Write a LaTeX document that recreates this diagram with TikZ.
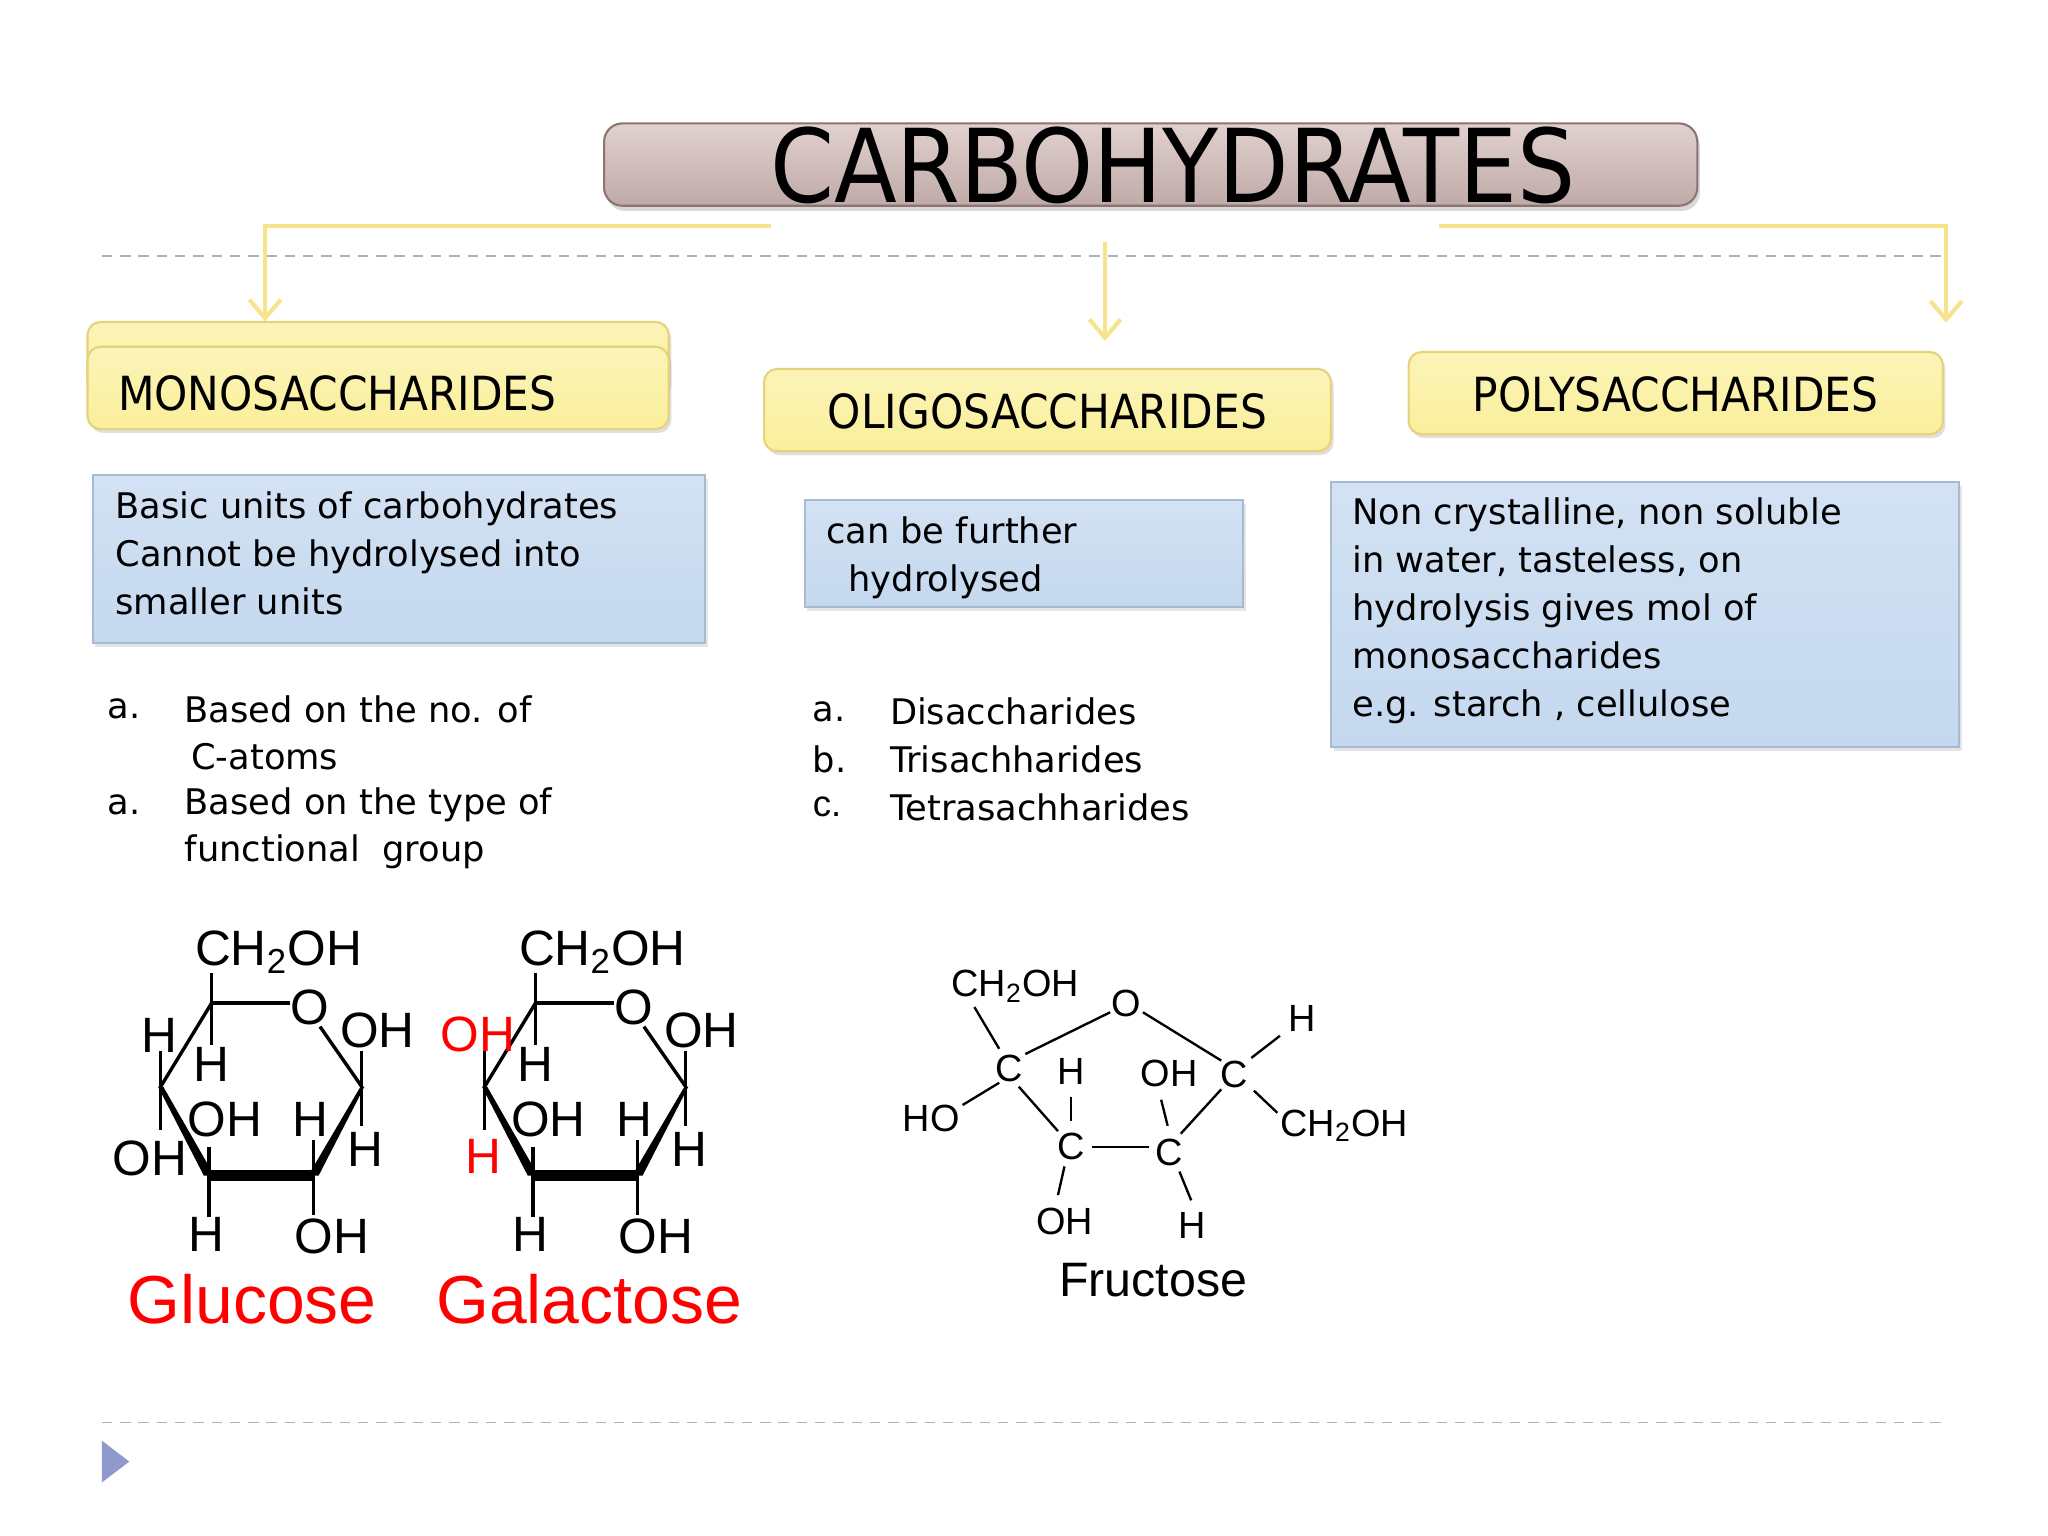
\documentclass[tikz,border=0pt]{standalone}
\usepackage{fontspec}
\setmainfont{DejaVu Sans}
\newfontfamily\condf{DejaVu Sans Condensed}
\newfontfamily\chemf{Liberation Sans}
\usetikzlibrary{arrows.meta,shadows,calc}
\definecolor{ylw}{HTML}{FAEF9A}
\definecolor{ylwb}{HTML}{E6D27A}
\definecolor{yline}{HTML}{F6E38C}
\definecolor{blu}{HTML}{C4D8EF}
\definecolor{blub}{HTML}{A6BAD2}
\definecolor{ttl}{HTML}{D4BDBA}
\definecolor{ttlb}{HTML}{8C7472}
\definecolor{dash}{HTML}{A8B4C4}
\begin{document}
\begin{tikzpicture}[x=0.5pt,y=-0.5pt,
  ybox/.style={draw=ylwb,line width=0.8pt,rounded corners=5pt,top color=ylw!70!white,bottom color=ylw,drop shadow={opacity=0.25,shadow xshift=1pt,shadow yshift=-1.5pt}},
  bbox/.style={draw=blub,line width=0.8pt,top color=blu!75!white,bottom color=blu,drop shadow={opacity=0.2,shadow xshift=1pt,shadow yshift=-1.5pt}},
  conn/.style={draw=yline,line width=1.6pt},
  arr/.style={conn,-{Straight Barb[length=7pt,width=12pt,line width=1.6pt]}},
  dsh/.style={draw=dash,line width=0.6pt,dash pattern=on 4pt off 3pt},
  body/.style={font=\fontsize{13.5}{18.3}\selectfont,inner sep=0pt,anchor=west},
  hd/.style={font=\condf\fontsize{18}{20}\selectfont,inner sep=0pt},
  ch/.style={font=\chemf\fontsize{19}{20}\selectfont,inner sep=0pt},
  fr/.style={font=\chemf\fontsize{14.5}{16}\selectfont,inner sep=0pt},
  bd/.style={line width=1.3pt},
  fb/.style={line width=0.9pt}]
\useasboundingbox (0,0) rectangle (1568,1176);
\fill[white] (0,0) rectangle (1568,1176);
% dashed rules
\draw[dsh] (78,196) -- (1490,196);
\draw[dsh] (78,1089) -- (1490,1089);
\fill[dash!85!blue] (78,1103) -- (99,1119) -- (78,1135) -- cycle;
% title
\node[draw=ttlb,line width=0.8pt,rounded corners=7pt,top color=ttl!70!white,bottom color=ttl!90!black,minimum width=837*0.5pt,minimum height=63*0.5pt,inner sep=0pt,drop shadow={opacity=0.3,shadow xshift=1pt,shadow yshift=-2pt}] (title) at (881,126) {};
\node[font=\condf\fontsize{39}{40}\selectfont,inner sep=0pt] (ttext) at (898,127) {CARBOHYDRATES};
% connectors
\coordinate (ls) at (590,173); \coordinate (lc) at (203,173); \coordinate (le) at (203,246);
\coordinate (ms) at (846,185); \coordinate (me) at (846,261);
\coordinate (rs) at (1102,173); \coordinate (rc) at (1490,173); \coordinate (re) at (1490,247);
\draw[arr] (ls) -- (lc) -- (le);
\draw[arr] (ms) -- (me);
\draw[arr] (rs) -- (rc) -- (re);
% heading boxes
\node[ybox,minimum width=445*0.5pt,minimum height=55*0.5pt,inner sep=0pt] (monoback) at (289.5,274) {};
\node[ybox,minimum width=445*0.5pt,minimum height=63*0.5pt,inner sep=0pt] (mono) at (289.5,297) {};
\node[hd,anchor=west] (monot) at (90,301) {MONOSACCHARIDES};
\node[ybox,minimum width=434*0.5pt,minimum height=63*0.5pt,inner sep=0pt] (oligo) at (802,314) {};
\node[hd] (oligot) at (802,315) {OLIGOSACCHARIDES};
\node[ybox,minimum width=409*0.5pt,minimum height=63*0.5pt,inner sep=0pt] (poly) at (1283,301) {};
\node[hd] (polyt) at (1283,302) {POLYSACCHARIDES};
% blue boxes
\draw[bbox] (71,364) rectangle (540,492);
\node[body,anchor=north west,align=left] (monod) at (88,376) {Basic units of carbohydrates\\Cannot be hydrolysed into\\smaller units};
\draw[bbox] (616,383) rectangle (952,465);
\node[body,anchor=north west,align=left] (oligod) at (632,395) {can be further\\\ \ hydrolysed};
\draw[bbox] (1019,369) rectangle (1500,572);
\node[body,anchor=north west,align=left] (polyd) at (1035,381) {Non crystalline, non soluble\\in water, tasteless, on\\hydrolysis gives mol of\\monosaccharides\\e.g. starch , cellulose};
% lists
\node[body] (la1) at (82,543) {a.};
\node[body] (lt1) at (141,543) {Based on the no. of};
\node[body] (lt1b) at (146,579) {C-atoms};
\node[body] (la2) at (82,616) {a.};
\node[body] (lt2) at (141,616) {Based on the type of};
\node[body] (lt2b) at (141,652) {functional\ \ group};
\node[body] (ob1) at (622,545) {a.};
\node[body] (ot1) at (681,545) {Disaccharides};
\node[body] (ob2) at (622,581) {b.};
\node[body] (ot2) at (681,581) {Trisachharides};
\node[body,font=\chemf\fontsize{14}{16}\selectfont] (ob3) at (622,618) {c.};
\node[body] (ot3) at (681,618) {Tetrasachharides};
% glucose and galactose
\foreach \dx/\nm in {0/glu,248/gal}{
\begin{scope}[shift={(\dx,0)}]
  \node[ch,anchor=west] (\nm ch) at (149,729) {CH\textsubscript{2}OH};
  \draw[bd] (162,745) -- (162,768) -- (222,768);
  \node[ch] (\nm o) at (237,771) {O};
  \draw[bd] (245,786) -- (277,832);
  \fill (276,832) -- (279,832) -- (244,900) -- (236,900) -- cycle;
  \draw[line width=4pt] (240,900) -- (160,900);
  \fill (164,900) -- (156,900) -- (121,832) -- (125,832) -- cycle;
  \draw[bd] (123,832) -- (162,768);
  % substituents
  \draw[bd] (162,768) -- (162,800);
  \node[ch] (\nm h5) at (162,815) {H};
  \draw[bd] (123,805) -- (123,865);
  \draw[bd] (160,900) -- (160,932);
  \node[ch] (\nm h3) at (158,945) {H};
  \draw[bd] (160,900) -- (160,878);
  \node[ch] (\nm o3) at (172,857) {OH};
  \draw[bd] (240,900) -- (240,873);
  \node[ch] (\nm h2) at (238,857) {H};
  \draw[bd] (240,900) -- (240,930);
  \node[ch] (\nm o2) at (254,947) {OH};
  \draw[bd] (277,832) -- (277,805);
  \node[ch] (\nm o1) at (289,789) {OH};
  \draw[bd] (277,832) -- (277,862);
  \node[ch] (\nm h1) at (280,880) {H};
\end{scope}}
\node[ch] (gluh4) at (122,793) {H};
\node[ch] (gluo4) at (115,887) {OH};
\node[ch,text=red] (galo4) at (366,792) {OH};
\node[ch,text=red] (galh4) at (370,885) {H};
\node[font=\chemf\fontsize{26}{28}\selectfont,text=red,inner sep=0pt] (glucose) at (193,995) {Glucose};
\node[font=\chemf\fontsize{26}{28}\selectfont,text=red,inner sep=0pt] (galactose) at (451,995) {Galactose};
% fructose
\node[fr,anchor=west] (fch1) at (728,755) {CH\textsubscript{2}OH};
\node[fr] (fo) at (862,768) {O};
\node[fr] (fh1) at (997,780) {H};
\node[fr] (fcl) at (773,818) {C};
\node[fr] (fh2) at (820,820) {H};
\node[fr] (foh1) at (895,822) {OH};
\node[fr] (fcr) at (945,823) {C};
\node[fr] (fho) at (713,856) {HO};
\node[fr,anchor=west] (fch2) at (980,862) {CH\textsubscript{2}OH};
\node[fr] (fcbl) at (820,878) {C};
\node[fr] (fcbr) at (895,882) {C};
\node[fr] (foh2) at (815,935) {OH};
\node[fr] (fh3) at (913,938) {H};
\node[font=\chemf\fontsize{18.5}{20}\selectfont,inner sep=0pt] (fructose) at (883,980) {Fructose};
\draw[fb] (746,771) -- (765,803);
\draw[fb] (785,807) -- (850,775);
\draw[fb] (875,775) -- (935,812);
\draw[fb] (958,810) -- (980,793);
\draw[fb] (960,835) -- (978,852);
\draw[fb] (737,846) -- (765,829);
\draw[fb] (780,832) -- (810,866);
\draw[fb] (820,840) -- (820,858);
\draw[fb] (836,878) -- (880,878);
\draw[fb] (889,842) -- (894,862);
\draw[fb] (904,868) -- (935,834);
\draw[fb] (815,893) -- (810,915);
\draw[fb] (903,897) -- (912,919);
\end{tikzpicture}
\end{document}
